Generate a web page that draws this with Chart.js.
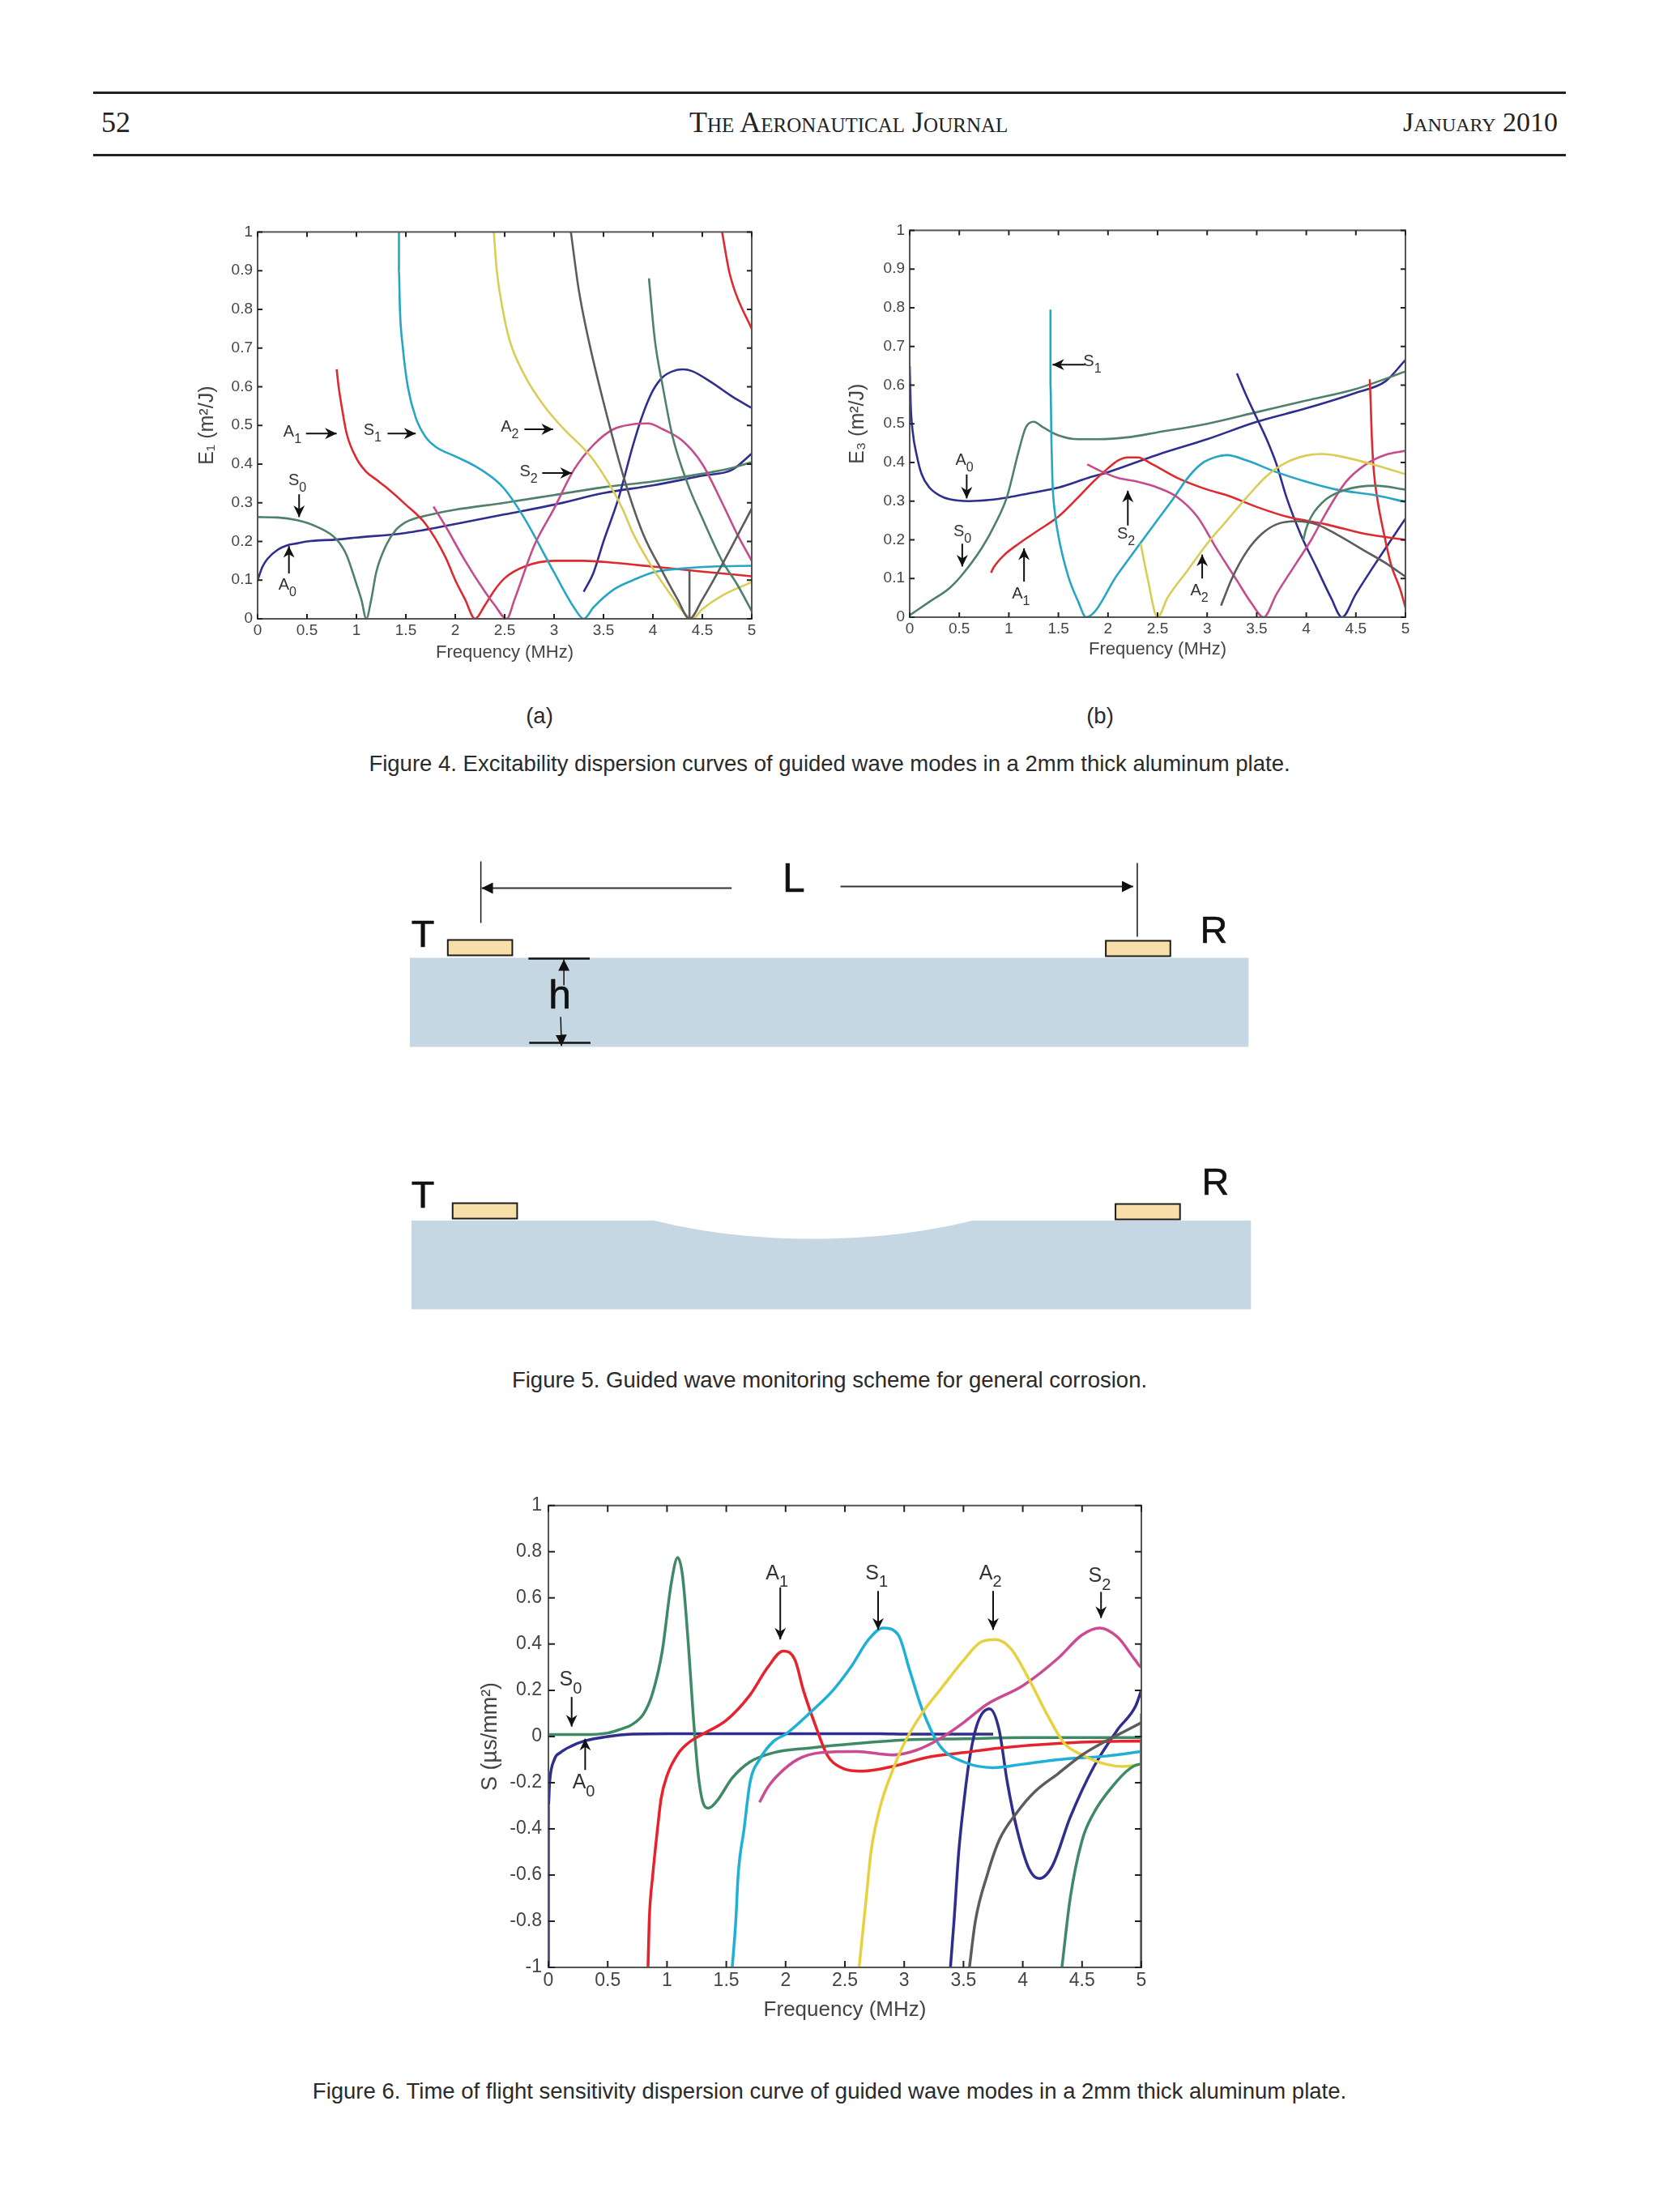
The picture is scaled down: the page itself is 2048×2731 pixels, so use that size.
<!DOCTYPE html>
<html>
<head>
<meta charset="utf-8">
<title>Figure 4-6</title>
<script src="https://cdn.jsdelivr.net/npm/chart.js@4/dist/chart.umd.min.js"></script>
<style>
  html, body { margin: 0; padding: 0; background: #fff; }
  #page { position: relative; width: 2048px; height: 2731px; overflow: hidden; font-family: "Liberation Sans", sans-serif; color: #2a2a2a; }
  canvas { position: absolute; }
  .rule { position: absolute; left: 115px; width: 1818px; height: 3px; background: #222; }
  .head { position: absolute; top: 131px; font-family: "Liberation Serif", serif; font-size: 36px; line-height: 40px; white-space: nowrap; font-variant: small-caps; color: #222; }
  .cap { position: absolute; font-size: 27.5px; line-height: 34px; white-space: nowrap; transform: translateX(-50%); }
  svg { position: absolute; left: 0; top: 0; }
  svg text { font-family: "Liberation Sans", sans-serif; fill: #111; stroke: #111; stroke-width: 0.6; }
</style>
</head>
<body>
<div id="page">
  <div class="rule" style="top:113px"></div>
  <div class="rule" style="top:190px"></div>
  <div class="head" style="left:125px">52</div>
  <div class="head" style="left:851px">The Aeronautical Journal</div>
  <div class="head" style="left:1732px;font-size:34px">January 2010</div>

  <canvas id="chartA" style="left:241px;top:269px"></canvas>
  <canvas id="chartB" style="left:1044px;top:267px"></canvas>
  <canvas id="chartC" style="left:589px;top:1837px"></canvas>

  <div class="cap" style="left:666px;top:867px">(a)</div>
  <div class="cap" style="left:1358px;top:867px">(b)</div>
  <div class="cap" style="left:1024px;top:926px">Figure 4. Excitability dispersion curves of guided wave modes in a 2mm thick aluminum plate.</div>
  <div class="cap" style="left:1024px;top:1687px">Figure 5. Guided wave monitoring scheme for general corrosion.</div>
  <div class="cap" style="left:1024px;top:2565px">Figure 6. Time of flight sensitivity dispersion curve of guided wave modes in a 2mm thick aluminum plate.</div>

  <!-- Figure 5 is a schematic, not a chart -->
  <svg width="2048" height="2731">
    <defs>
      <marker id="head" viewBox="0 0 10 10" refX="10" refY="5" markerWidth="14" markerHeight="14" markerUnits="userSpaceOnUse" orient="auto-start-reverse">
        <path d="M0 0L10 5L0 10z" fill="#111"></path>
      </marker>
    </defs>
    <g transform="translate(2.28,-1.5) scale(0.9955,1)">
      <rect x="506" y="1184" width="1040" height="110" fill="#c4d7e3"></rect>
      <path d="M508 1508.5H809Q900 1531 1006 1531T1204 1508.5H1549V1618H508z" fill="#c4d7e3"></path>
      <g fill="#f8dfaa" stroke="#1c1c1c" stroke-width="2">
        <rect x="553" y="1162" width="80" height="19"></rect>
        <rect x="1369" y="1163" width="80" height="19"></rect>
        <rect x="559" y="1487" width="80" height="19"></rect>
        <rect x="1381" y="1488" width="80" height="19"></rect>
      </g>
      <g stroke="#111" stroke-width="1.5" fill="none">
        <line x1="594" y1="1065" x2="594" y2="1141"></line>
        <line x1="1408" y1="1067" x2="1408" y2="1158"></line>
        <line x1="905" y1="1098" x2="595" y2="1098" stroke="#333" stroke-width="2" marker-end="url(#head)"></line>
        <line x1="1040" y1="1096" x2="1403" y2="1096" stroke="#333" stroke-width="2" marker-end="url(#head)"></line>
        <line x1="653" y1="1185" x2="729" y2="1185" stroke-width="2.5"></line>
        <line x1="654" y1="1289" x2="730" y2="1289" stroke-width="2.5"></line>
        <line x1="697" y1="1218" x2="697" y2="1186" marker-end="url(#head)"></line>
        <line x1="693" y1="1257" x2="694" y2="1293" marker-end="url(#head)"></line>
      </g>
      <text x="982" y="1103" font-size="50" text-anchor="middle">L</text>
      <text x="522" y="1171" font-size="47" text-anchor="middle">T</text>
      <text x="1503" y="1166" font-size="47" text-anchor="middle">R</text>
      <text x="692" y="1247" font-size="50" text-anchor="middle">h</text>
      <text x="522" y="1493" font-size="47" text-anchor="middle">T</text>
      <text x="1505" y="1477" font-size="47" text-anchor="middle">R</text>
    </g>
  </svg>
</div>

<script>
// colours of the mode curves
const navy = "#2f2e8e", green = "#4f806a", red = "#dd2a2f", cyan = "#26a6c4", yellow = "#d9cd55", pink = "#c54c8c", gray = "#5c5c5c";

const freqTicks = [0, 0.5, 1, 1.5, 2, 2.5, 3, 3.5, 4, 4.5, 5];
const excitTicks = [0, 0.1, 0.2, 0.3, 0.4, 0.5, 0.6, 0.7, 0.8, 0.9, 1];
const sensTicks = [-1, -0.8, -0.6, -0.4, -0.2, 0, 0.2, 0.4, 0.6, 0.8, 1];

// ---- Figure 4(a) ----
const aA0x = [0, 0.05, 0.1, 0.2, 0.3, 0.4, 0.5, 0.8, 1, 1.5, 2, 2.5, 3, 3.5, 4, 4.5, 4.8, 5];
const aA0y = [0.1, 0.135, 0.155, 0.178, 0.19, 0.195, 0.2, 0.205, 0.21, 0.222, 0.245, 0.27, 0.295, 0.325, 0.345, 0.37, 0.385, 0.427];
const aS0x = [0, 0.2, 0.4, 0.6, 0.8, 0.9, 1, 1.05, 1.1, 1.15, 1.2, 1.3, 1.4, 1.5, 1.6, 1.8, 2, 2.5, 3, 3.5, 4, 4.5, 4.8, 5];
const aS0y = [0.263, 0.262, 0.255, 0.238, 0.205, 0.165, 0.09, 0.05, 0, 0.05, 0.12, 0.19, 0.23, 0.25, 0.26, 0.272, 0.282, 0.3, 0.32, 0.34, 0.355, 0.375, 0.39, 0.405];
const aA1x = [0.8, 0.82, 0.85, 0.9, 1, 1.1, 1.2, 1.3, 1.5, 1.7, 1.9, 2, 2.1, 2.2, 2.3, 2.4, 2.5, 2.7, 3, 3.3, 3.6, 4, 4.5, 5];
const aA1y = [0.645, 0.6, 0.55, 0.48, 0.415, 0.38, 0.36, 0.34, 0.295, 0.245, 0.16, 0.1, 0.05, 0, 0.035, 0.075, 0.105, 0.135, 0.15, 0.15, 0.145, 0.135, 0.122, 0.11];
const aRedx = [4.7, 4.77, 4.84, 5];
const aRedy = [1, 0.9, 0.84, 0.75];
const aS1x = [1.43, 1.43, 1.44, 1.47, 1.52, 1.6, 1.7, 1.8, 2, 2.2, 2.4, 2.5, 2.7, 3, 3.2, 3.3, 3.4, 3.6, 3.8, 4, 4.3, 4.6, 5];
const aS1y = [1, 0.9, 0.8, 0.7, 0.6, 0.52, 0.47, 0.445, 0.42, 0.395, 0.36, 0.335, 0.26, 0.12, 0.03, 0, 0.03, 0.075, 0.1, 0.12, 0.13, 0.135, 0.137];
const aA2x = [2.39, 2.42, 2.48, 2.55, 2.7, 2.9, 3.1, 3.3, 3.4, 3.6, 3.7, 3.8, 4, 4.2, 4.3, 4.4, 4.5, 4.7, 5];
const aA2y = [1, 0.9, 0.8, 0.72, 0.63, 0.55, 0.49, 0.44, 0.41, 0.33, 0.28, 0.22, 0.13, 0.055, 0.02, 0, 0.025, 0.06, 0.095];
const aS2x = [1.78, 1.9, 2.1, 2.3, 2.4, 2.52, 2.6, 2.8, 3, 3.2, 3.4, 3.6, 3.8, 3.95, 4.1, 4.3, 4.5, 4.7, 4.85, 5];
const aS2y = [0.29, 0.24, 0.15, 0.07, 0.035, 0, 0.05, 0.19, 0.285, 0.385, 0.45, 0.49, 0.503, 0.505, 0.49, 0.46, 0.4, 0.3, 0.22, 0.15];
const aNavyx = [3.3, 3.4, 3.5, 3.65, 3.8, 3.9, 4, 4.1, 4.2, 4.3, 4.4, 4.6, 4.8, 5];
const aNavyy = [0.07, 0.12, 0.2, 0.31, 0.45, 0.53, 0.59, 0.625, 0.64, 0.645, 0.64, 0.61, 0.575, 0.545];
const aGrayx = [3.17, 3.25, 3.35, 3.5, 3.7, 3.9, 4.1, 4.25, 4.37, 4.37, 4.37, 4.5, 4.7, 5];
const aGrayy = [1, 0.85, 0.72, 0.56, 0.37, 0.22, 0.12, 0.05, 0, 0.125, 0, 0.05, 0.14, 0.285];
const aGreenx = [3.96, 4.02, 4.1, 4.2, 4.35, 4.5, 4.7, 4.85, 5];
const aGreeny = [0.88, 0.72, 0.6, 0.47, 0.35, 0.26, 0.15, 0.09, 0.02];

// ---- Figure 4(b) ----
const bA0x = [0, 0.01, 0.03, 0.07, 0.12, 0.2, 0.3, 0.4, 0.6, 0.8, 1, 1.2, 1.5, 1.8, 2, 2.5, 3, 3.5, 4, 4.5, 4.8, 5];
const bA0y = [0.65, 0.55, 0.48, 0.42, 0.37, 0.335, 0.315, 0.305, 0.3, 0.303, 0.31, 0.32, 0.335, 0.36, 0.375, 0.42, 0.46, 0.505, 0.54, 0.58, 0.61, 0.665];
const bS0x = [0, 0.2, 0.4, 0.53, 0.73, 0.86, 0.98, 1.1, 1.17, 1.25, 1.35, 1.5, 1.7, 1.9, 2.2, 2.5, 3, 3.5, 4, 4.5, 5];
const bS0y = [0.005, 0.04, 0.075, 0.11, 0.18, 0.24, 0.31, 0.43, 0.49, 0.505, 0.49, 0.47, 0.46, 0.46, 0.465, 0.478, 0.5, 0.53, 0.56, 0.59, 0.635];
const bA1x = [0.82, 0.85, 0.95, 1.1, 1.3, 1.5, 1.7, 1.85, 2, 2.1, 2.2, 2.3, 2.45, 2.7, 3, 3.2, 3.5, 3.8, 4.2, 4.6, 5];
const bA1y = [0.115, 0.13, 0.16, 0.19, 0.225, 0.26, 0.31, 0.35, 0.385, 0.405, 0.413, 0.413, 0.395, 0.36, 0.33, 0.315, 0.285, 0.26, 0.24, 0.215, 0.2];
const bS1x = [1.42, 1.42, 1.43, 1.44, 1.46, 1.5, 1.6, 1.7, 1.78, 2.1, 2.3, 2.5, 2.64, 2.81, 2.95, 3.1, 3.2, 3.4, 3.7, 4, 4.3, 4.7, 5];
const bS1y = [0.795, 0.6, 0.45, 0.35, 0.28, 0.21, 0.105, 0.04, 0, 0.112, 0.182, 0.252, 0.3, 0.362, 0.398, 0.415, 0.419, 0.405, 0.375, 0.35, 0.33, 0.315, 0.298];
const bA2x = [2.33, 2.4, 2.5, 2.6, 2.8, 3, 3.2, 3.4, 3.6, 3.8, 4, 4.15, 4.3, 4.6, 5];
const bA2y = [0.19, 0.1, 0, 0.05, 0.12, 0.19, 0.25, 0.31, 0.365, 0.4, 0.418, 0.422, 0.418, 0.4, 0.37];
const bS2x = [1.79, 1.95, 2.1, 2.3, 2.5, 2.7, 2.9, 3.1, 3.3, 3.45, 3.57, 3.7, 3.9, 4.05, 4.2, 4.4, 4.6, 4.8, 5];
const bS2y = [0.395, 0.375, 0.36, 0.35, 0.335, 0.31, 0.26, 0.175, 0.095, 0.035, 0, 0.06, 0.14, 0.2, 0.27, 0.35, 0.395, 0.42, 0.43];
const bNavyx = [3.3, 3.4, 3.5, 3.6, 3.7, 3.8, 3.95, 4.1, 4.25, 4.36, 4.5, 4.7, 5];
const bNavyy = [0.63, 0.57, 0.515, 0.46, 0.395, 0.31, 0.21, 0.13, 0.05, 0, 0.06, 0.14, 0.255];
const bGrayx = [3.14, 3.25, 3.4, 3.55, 3.7, 3.9, 4.1, 4.3, 4.6, 4.8, 5];
const bGrayy = [0.03, 0.1, 0.17, 0.215, 0.24, 0.248, 0.24, 0.215, 0.17, 0.14, 0.105];
const bGreenx = [3.97, 4, 4.05, 4.2, 4.4, 4.7, 5];
const bGreeny = [0.2, 0.23, 0.26, 0.305, 0.33, 0.34, 0.33];
const bRedx = [4.64, 4.65, 4.66, 4.68, 4.72, 4.78, 4.85, 4.95, 5];
const bRedy = [0.615, 0.55, 0.47, 0.38, 0.3, 0.22, 0.14, 0.07, 0.025];

// ---- Figure 6 ----
const cA0x = [0, 0, 0.01, 0.05, 0.1, 0.2, 0.3, 0.5, 0.7, 1, 2, 2.8, 3, 3.75];
const cA0y = [-1, -0.3, -0.2, -0.1, -0.07, -0.04, -0.02, 0, 0.01, 0.012, 0.012, 0.012, 0.01, 0.01];
const cS0x = [0, 0.3, 0.5, 0.6, 0.7, 0.805, 0.88, 0.96, 1.035, 1.09, 1.13, 1.18, 1.22, 1.26, 1.3, 1.35, 1.42, 1.55, 1.7, 1.9, 2.2, 2.6, 3, 3.5, 4, 5];
const cS0y = [0.008, 0.008, 0.015, 0.03, 0.05, 0.1, 0.19, 0.37, 0.66, 0.775, 0.7, 0.4, 0.1, -0.15, -0.28, -0.31, -0.28, -0.18, -0.11, -0.07, -0.05, -0.03, -0.015, -0.01, -0.005, -0.005];
const cA1x = [0.84, 0.85, 0.88, 0.92, 0.95, 1, 1.1, 1.2, 1.3, 1.5, 1.7, 1.85, 1.98, 2.08, 2.15, 2.25, 2.35, 2.45, 2.65, 2.9, 3.2, 3.5, 3.8, 4.3, 5, 5, 5];
const cA1y = [-1, -0.8, -0.6, -0.4, -0.27, -0.17, -0.07, -0.02, 0.01, 0.07, 0.18, 0.3, 0.37, 0.33, 0.2, 0.05, -0.08, -0.13, -0.15, -0.13, -0.09, -0.07, -0.05, -0.03, -0.02, -0.15, -1];
const cS1x = [1.55, 1.58, 1.6, 1.65, 1.7, 1.78, 1.9, 2, 2.2, 2.4, 2.55, 2.7, 2.82, 2.95, 3.05, 3.15, 3.3, 3.5, 3.75, 4, 4.3, 4.7, 5];
const cS1y = [-1, -0.8, -0.6, -0.4, -0.2, -0.1, -0.02, 0.01, 0.1, 0.2, 0.3, 0.42, 0.47, 0.44, 0.28, 0.12, -0.04, -0.11, -0.135, -0.12, -0.1, -0.085, -0.065];
const cA2x = [2.62, 2.68, 2.72, 2.8, 2.9, 3, 3.15, 3.3, 3.5, 3.65, 3.77, 3.9, 4.05, 4.2, 4.35, 4.5, 4.7, 4.85, 5];
const cA2y = [-1, -0.7, -0.5, -0.3, -0.15, -0.03, 0.1, 0.2, 0.33, 0.41, 0.42, 0.38, 0.25, 0.1, -0.03, -0.08, -0.12, -0.13, -0.12];
const cS2x = [1.78, 1.85, 1.95, 2.1, 2.3, 2.6, 2.9, 3.1, 3.3, 3.5, 3.7, 4, 4.3, 4.5, 4.65, 4.8, 4.95, 5, 5];
const cS2y = [-0.285, -0.22, -0.16, -0.1, -0.07, -0.065, -0.08, -0.06, -0.01, 0.06, 0.14, 0.22, 0.34, 0.44, 0.47, 0.43, 0.33, 0.3, 0.4];
const cNavyx = [3.39, 3.42, 3.46, 3.5, 3.55, 3.62, 3.72, 3.8, 3.87, 3.95, 4.05, 4.14, 4.25, 4.4, 4.6, 4.8, 4.95, 5];
const cNavyy = [-1, -0.8, -0.5, -0.3, -0.1, 0.06, 0.12, 0.03, -0.2, -0.4, -0.57, -0.615, -0.56, -0.35, -0.13, 0.03, 0.13, 0.2];
const cGrayx = [3.55, 3.6, 3.7, 3.8, 3.95, 4.1, 4.3, 4.5, 4.7, 4.85, 5];
const cGrayy = [-1, -0.8, -0.6, -0.45, -0.33, -0.24, -0.16, -0.08, -0.02, 0.02, 0.06];
const cGreenx = [4.33, 4.4, 4.5, 4.6, 4.75, 4.9, 5, 5];
const cGreeny = [-1, -0.7, -0.45, -0.33, -0.22, -0.14, -0.12, 0.1];

// mode labels: [letter, subscript, x, y] and arrows: [x1, y1, x2, y2], all in data units
const aLabels = [["A", "1", 0.34, 0.483], ["S", "1", 1.15, 0.487], ["A", "2", 2.54, 0.495], ["S", "2", 2.73, 0.38], ["S", "0", 0.39, 0.357], ["A", "0", 0.29, 0.0875]];
const aArrows = [[0.49, 0.479, 0.8, 0.479], [1.315, 0.479, 1.6, 0.479], [2.7, 0.49, 2.99, 0.49], [2.88, 0.377, 3.18, 0.377], [0.42, 0.322, 0.42, 0.263], [0.317, 0.117, 0.317, 0.188]];
const bLabels = [["S", "1", 1.83, 0.66], ["A", "0", 0.54, 0.405], ["S", "0", 0.52, 0.22], ["S", "2", 2.17, 0.215], ["A", "1", 1.11, 0.06], ["A", "2", 2.91, 0.068]];
const bArrows = [[1.77, 0.653, 1.44, 0.653], [0.575, 0.369, 0.575, 0.307], [0.53, 0.19, 0.53, 0.131], [2.2, 0.237, 2.2, 0.327], [1.153, 0.092, 1.153, 0.178], [2.95, 0.1, 2.95, 0.162]];
const cLabels = [["S", "0", 0.17, 0.246], ["A", "0", 0.28, -0.2], ["A", "1", 1.91, 0.706], ["S", "1", 2.75, 0.706], ["A", "2", 3.71, 0.706], ["S", "2", 4.63, 0.694]];
const cArrows = [[0.196, 0.171, 0.196, 0.043], [0.31, -0.145, 0.31, -0.01], [1.955, 0.646, 1.955, 0.42], [2.78, 0.63, 2.78, 0.462], [3.75, 0.63, 3.75, 0.462], [4.66, 0.626, 4.66, 0.513]];

function curve(xs, ys, color) {
    return { xs: xs, ys: ys, color: color };
}

// frame, inward ticks, mode labels and arrows
const decorPlugin = {
    id: "decor",
    afterDatasetsDraw(chart, args, opts) {
        const ctx = chart.ctx;
        const area = chart.chartArea;
        const sx = chart.scales.x, sy = chart.scales.y;
        ctx.save();
        ctx.strokeStyle = "#555";
        ctx.lineWidth = 2;
        ctx.strokeRect(area.left, area.top, area.right - area.left, area.bottom - area.top);
        ctx.strokeStyle = "#222";
        ctx.beginPath();
        sx.ticks.forEach(t => {
            const px = sx.getPixelForValue(t.value);
            ctx.moveTo(px, area.bottom); ctx.lineTo(px, area.bottom - opts.tick);
            ctx.moveTo(px, area.top); ctx.lineTo(px, area.top + opts.tick);
        });
        sy.ticks.forEach(t => {
            const py = sy.getPixelForValue(t.value);
            ctx.moveTo(area.left, py); ctx.lineTo(area.left + opts.tick, py);
            ctx.moveTo(area.right, py); ctx.lineTo(area.right - opts.tick, py);
        });
        ctx.stroke();

        opts.arrows.forEach(a => {
            const x1 = sx.getPixelForValue(a[0]), y1 = sy.getPixelForValue(a[1]);
            const x2 = sx.getPixelForValue(a[2]), y2 = sy.getPixelForValue(a[3]);
            const ang = Math.atan2(y2 - y1, x2 - x1);
            ctx.strokeStyle = "#111";
            ctx.lineWidth = 2;
            ctx.beginPath(); ctx.moveTo(x1, y1); ctx.lineTo(x2, y2); ctx.stroke();
            ctx.fillStyle = "#111";
            ctx.beginPath();
            ctx.moveTo(x2, y2);
            ctx.lineTo(x2 - 16 * Math.cos(ang - 0.45), y2 - 16 * Math.sin(ang - 0.45));
            ctx.lineTo(x2 - 10 * Math.cos(ang), y2 - 10 * Math.sin(ang));
            ctx.lineTo(x2 - 16 * Math.cos(ang + 0.45), y2 - 16 * Math.sin(ang + 0.45));
            ctx.closePath();
            ctx.fill();
        });

        ctx.fillStyle = "#333";
        ctx.textBaseline = "middle";
        ctx.textAlign = "left";
        opts.labels.forEach(l => {
            const px = sx.getPixelForValue(l[2]), py = sy.getPixelForValue(l[3]);
            ctx.font = opts.labelSize + 'px "Liberation Sans"';
            const w = ctx.measureText(l[0]).width;
            ctx.fillText(l[0], px - w / 2 - 3, py);
            ctx.font = Math.round(opts.labelSize * 0.8) + 'px "Liberation Sans"';
            ctx.fillText(l[1], px + w / 2 - 3, py + opts.labelSize * 0.45);
        });
        ctx.restore();
    }
};

function drawChart(id, cfg) {
    const canvas = document.getElementById(id);
    canvas.width = cfg.width;
    canvas.height = cfg.height;
    canvas.style.width = cfg.width + "px";
    canvas.style.height = cfg.height + "px";
    return new Chart(canvas.getContext("2d"), {
        type: "scatter",
        data: {
            datasets: cfg.curves.map(c => ({
                data: c.xs.map((x, i) => ({ x: x, y: c.ys[i] })),
                showLine: true,
                borderColor: c.color,
                borderWidth: cfg.lineWidth,
                pointRadius: 0,
                cubicInterpolationMode: "monotone",
                fill: false
            }))
        },
        options: {
            responsive: false,
            animation: false,
            devicePixelRatio: 1,
            layout: { padding: { top: cfg.top, right: cfg.right, left: 0, bottom: 0 } },
            plugins: {
                legend: { display: false },
                tooltip: { enabled: false },
                decor: { tick: cfg.tick, labels: cfg.labels, arrows: cfg.arrows, labelSize: cfg.labelSize }
            },
            scales: {
                x: {
                    type: "linear", min: 0, max: 5,
                    afterBuildTicks: s => { s.ticks = freqTicks.map(v => ({ value: v })); },
                    afterFit: s => { s.height = cfg.bottom; },
                    grid: { display: false, drawTicks: false },
                    border: { display: false },
                    ticks: { autoSkip: false, maxRotation: 0, padding: 3, color: "#444", callback: v => String(v), font: { family: "Liberation Sans", size: cfg.tickSize } },
                    title: { display: true, text: "Frequency (MHz)", color: "#444", padding: { top: 0, bottom: 0 }, font: { family: "Liberation Sans", size: cfg.titleSize } }
                },
                y: {
                    type: "linear", min: cfg.yTicks[0], max: cfg.yTicks[cfg.yTicks.length - 1],
                    afterBuildTicks: s => { s.ticks = cfg.yTicks.map(v => ({ value: v })); },
                    afterFit: s => { s.width = cfg.left; },
                    grid: { display: false, drawTicks: false },
                    border: { display: false },
                    ticks: { autoSkip: false, padding: cfg.yPad, color: "#444", callback: v => String(v), font: { family: "Liberation Sans", size: cfg.tickSize } },
                    title: { display: true, text: cfg.yTitle, color: "#444", padding: { top: 0, bottom: 0 }, font: { family: "Liberation Sans", size: cfg.yTitleSize } }
                }
            }
        },
        plugins: [decorPlugin]
    });
}

document.addEventListener("DOMContentLoaded", function () {
    drawChart("chartA", {
        width: 705, height: 550, left: 77, right: 18, top: 15, bottom: 55, yPad: 6,
        lineWidth: 2.6, tick: 6, tickSize: 19, titleSize: 22, yTitleSize: 25, labelSize: 20,
        yTicks: excitTicks, yTitle: "E\u2081 (m\u00B2/J)", labels: aLabels, arrows: aArrows,
        curves: [
            curve(aGrayx, aGrayy, gray), curve(aGreenx, aGreeny, green), curve(aA2x, aA2y, yellow),
            curve(aS2x, aS2y, pink), curve(aS1x, aS1y, cyan), curve(aA1x, aA1y, red), curve(aRedx, aRedy, red),
            curve(aNavyx, aNavyy, navy), curve(aS0x, aS0y, green), curve(aA0x, aA0y, navy)
        ]
    });
    drawChart("chartB", {
        width: 706, height: 548, left: 79, right: 15, top: 15, bottom: 53, yPad: 6,
        lineWidth: 2.6, tick: 6, tickSize: 19, titleSize: 22, yTitleSize: 25, labelSize: 20,
        yTicks: excitTicks, yTitle: "E\u2083 (m\u00B2/J)", labels: bLabels, arrows: bArrows,
        curves: [
            curve(bGrayx, bGrayy, gray), curve(bGreenx, bGreeny, green), curve(bA2x, bA2y, yellow),
            curve(bS2x, bS2y, pink), curve(bS1x, bS1y, cyan), curve(bA1x, bA1y, red), curve(bRedx, bRedy, red),
            curve(bNavyx, bNavyy, navy), curve(bS0x, bS0y, green), curve(bA0x, bA0y, navy)
        ]
    });
    drawChart("chartC", {
        width: 837, height: 660, left: 88, right: 17, top: 14, bottom: 68, yPad: 8,
        lineWidth: 3.5, tick: 8, tickSize: 23, titleSize: 26, yTitleSize: 27, labelSize: 25,
        yTicks: sensTicks, yTitle: "S (\u00B5s/mm\u00B2)", labels: cLabels, arrows: cArrows,
        curves: [
            curve(cGrayx, cGrayy, gray), curve(cGreenx, cGreeny, "#3f8a66"), curve(cA2x, cA2y, "#e6d23f"),
            curve(cS2x, cS2y, "#cc4a92"), curve(cS1x, cS1y, "#1fb0d6"), curve(cA1x, cA1y, "#e8222c"),
            curve(cNavyx, cNavyy, navy), curve(cS0x, cS0y, "#3f8a66"), curve(cA0x, cA0y, navy)
        ]
    });
});
</script>
</body>
</html>
